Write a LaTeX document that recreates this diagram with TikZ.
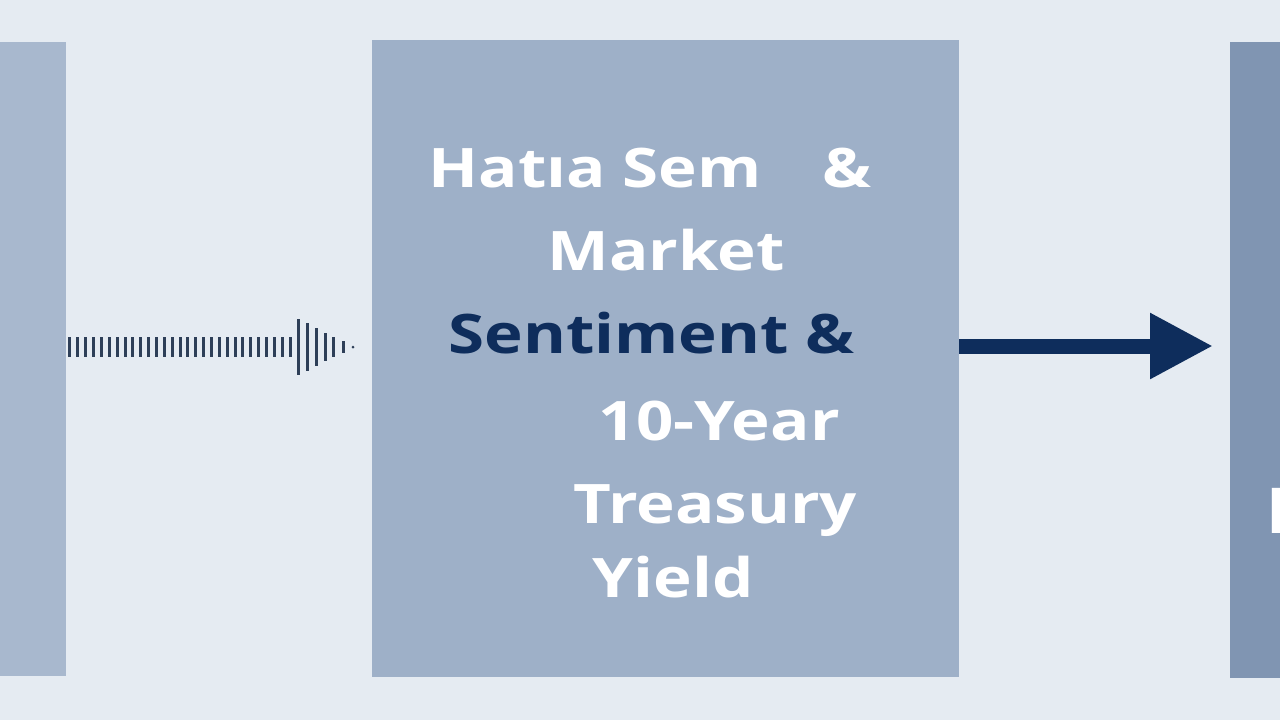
\documentclass[tikz,border=0pt]{standalone}
\usepackage{fontspec}
\setmainfont{Open Sans}[FakeStretch=1.2]
\usetikzlibrary{arrows.meta,calc}
\definecolor{pagebg}{HTML}{E5EBF2}
\definecolor{boxleft}{HTML}{A8B8CE}
\definecolor{boxmid}{HTML}{9EB0C8}
\definecolor{boxright}{HTML}{8095B2}
\definecolor{navy}{HTML}{0E2D5C}
\definecolor{hatchgray}{HTML}{2E3F58}
\tikzstyle{panel} = [draw=none, rectangle, inner sep=0, outer sep=0, anchor=north west]

\begin{document}
\begin{tikzpicture}[x=0.1mm, y=-0.1mm,
		txt/.style = {font=\fontsize{15.5}{18}\selectfont\bfseries, text=white, anchor=base west, inner sep=0},
		dark/.style = {txt, text=navy},
		bar/.style = {hatchgray, line width=0.3mm},
		flow/.style = {navy, line width=1.5mm, -{Triangle[length=6.3mm,width=6.2mm]}}]
		\fill[pagebg] (0,0) rectangle (1280,720);
		\useasboundingbox (0,0) rectangle (1280,720);
		\node (left) [panel, fill=boxleft, minimum width=16.6mm, minimum height=63.4mm] at (-100,42) {};
		\node (mid) [panel, fill=boxmid, minimum width=58.7mm, minimum height=63.7mm] at (372,40) {};
		\node (right) [panel, fill=boxright, minimum width=17mm, minimum height=63.6mm] at (1230,42) {};
		\node (l1) [txt] at (428,187) {Hatıa Sem};
		\node (l1b) [txt] at (822,187) {\&};
		\node (l2) [txt] at (547,270) {Market};
		\node (l3) [dark] at (448,353) {Sentiment \&};
		\node (l4) [txt] at (598,440) {10-Year};
		\node (l5) [txt] at (573,523) {Treasury};
		\node (l6) [txt] at (592,597) {Yield};
		\node (r1) [txt, font=\fontsize{18}{20}\selectfont\bfseries] at (1265,533) {H};
		\coordinate (hs) at ($(left.east |- 0,347)+(4,0)$);
		\coordinate (hd) at ($(mid.west |- 0,347)+(-74,0)$);
		\foreach \k in {0,...,28}
			\draw[bar] ($(hs)+(\k*7.86,-10)$) -- ++(0,20);
		\foreach \dx/\h in {0/28,9/24,18/19,27/14,35/10,45/6}
			\draw[bar] ($(hd)+(\dx,-\h)$) -- ++(0,2*\h);
		\fill[hatchgray] ($(hd)+(55,0)$) circle (0.15mm);
		\draw[flow, shorten >=1.7mm] (mid.east |- 0,346) -- (right.west |- 0,346);
	\end{tikzpicture}
\end{document}
